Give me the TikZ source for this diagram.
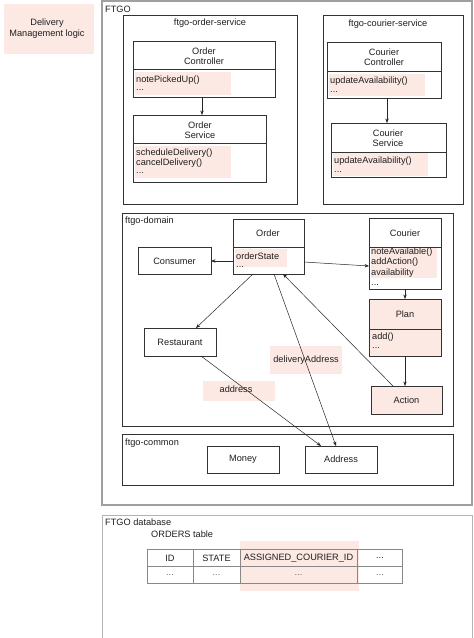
\documentclass[tikz,border=0pt]{standalone}
\usepackage{fontspec}
\setmainfont{Liberation Sans}
\usetikzlibrary{arrows.meta,calc}
\definecolor{pinkc}{HTML}{FCE9E3}
\definecolor{boxc}{HTML}{333333}
\definecolor{outerc}{HTML}{A0A0A0}
\definecolor{gridc}{HTML}{888888}
\newcommand{\mybox}[6]{\node[#6, anchor=north west, minimum width={(#4)-(#2)}, minimum height={(#5)-(#3)}] (#1) at (#2,#3) {};}
\begin{document}
\begin{tikzpicture}[x=1pt,y=-1pt,
  txt/.style={font=\fontsize{9.2}{10.5}\selectfont, inner sep=0pt, text=black!88},
  box/.style={draw=boxc, line width=0.6pt, fill=white, inner sep=0pt, outer sep=0pt},
  hl/.style={fill=pinkc, draw=none, inner sep=0pt, outer sep=0pt},
  divl/.style={draw=boxc, line width=0.6pt},
  arr/.style={-{Stealth[length=4.5pt,width=3.4pt]}, line width=0.5pt, draw=black!85},
]
\useasboundingbox (0,0) rectangle (474,638);

% Delivery management logic legend
\mybox{dml}{4}{4}{94}{54}{hl}
\node[txt, align=center, font=\fontsize{9.2}{11}\selectfont] (dmlt) at (47,29) {Delivery\\Management logic};

% FTGO outer
\mybox{ftgo}{102}{1}{472}{505}{draw=outerc, line width=1.2pt, inner sep=0pt, outer sep=0pt}
\node[txt, anchor=west] (ftgot) at (105,9) {FTGO};

% order service
\mybox{os}{123}{15}{297}{204}{box}
\node[txt] (ost) at (210,23) {ftgo-order-service};
\mybox{oc}{133}{41}{275}{97}{box}
\draw[divl] (oc.west |- 0,69) -- (oc.east |- 0,69);
\mybox{och}{135}{72}{231}{95}{hl}
\node[txt, align=center] (oct) at (204,56) {Order\\Controller};
\node[txt, anchor=west] (oc1) at (136,80) {notePickedUp()};
\node[txt, anchor=west] (oc2) at (136,90) {...};

\mybox{osv}{133}{115}{266}{182}{box}
\draw[divl] (osv.west |- 0,143) -- (osv.east |- 0,143);
\mybox{osvh}{135}{146}{231}{178}{hl}
\node[txt, align=center] (osvt) at (200,130) {Order\\Service};
\node[txt, anchor=west] (osv1) at (136,153) {scheduleDelivery()};
\node[txt, anchor=west] (osv2) at (136,163) {cancelDelivery()};
\node[txt, anchor=west] (osv3) at (136,173) {...};
\draw[arr] (oc.south -| 202,0) -- (osv.north -| 202,0);

% courier service
\mybox{cs}{323}{15}{463}{204}{box}
\node[txt] (cst) at (388,24) {ftgo-courier-service};
\mybox{cc}{327}{42}{441}{98}{box}
\draw[divl] (cc.west |- 0,71) -- (cc.east |- 0,71);
\mybox{cch}{329}{74}{425}{96}{hl}
\node[txt, align=center] (cct) at (384,57) {Courier\\Controller};
\node[txt, anchor=west] (cc1) at (330,81) {updateAvailability()};
\node[txt, anchor=west] (cc2) at (330,92) {...};

\mybox{csv}{331}{123}{446}{177}{box}
\draw[divl] (csv.west |- 0,152) -- (csv.east |- 0,152);
\mybox{csvh}{333}{153}{428}{176}{hl}
\node[txt, align=center] (csvt) at (388,138) {Courier\\Service};
\node[txt, anchor=west] (csv1) at (334,161) {updateAvailability()};
\node[txt, anchor=west] (csv2) at (334,172) {...};
\draw[arr] (cc.south -| 387,0) -- (csv.north -| 387,0);

% domain
\mybox{dom}{122}{213}{453}{426}{box}
\node[txt, anchor=west] (domt) at (125,221) {ftgo-domain};

\mybox{order}{233}{219}{304}{274}{box}
\draw[divl] (order.west |- 0,247) -- (order.east |- 0,247);
\mybox{orderh}{235}{249}{287}{267}{hl}
\node[txt] (ordert) at (268,233) {Order};
\node[txt, anchor=west] (order1) at (236,256) {orderState};
\node[txt, anchor=west] (order2) at (236,267) {...};

\mybox{consumer}{138}{247}{211}{274}{box}
\node[txt] (consumert) at (174.5,261) {Consumer};

\mybox{courier}{369}{218}{441}{289}{box}
\draw[divl] (courier.west |- 0,247) -- (courier.east |- 0,247);
\mybox{courierh}{371}{248}{437}{278}{hl}
\node[txt] (couriert) at (405,233) {Courier};
\node[txt, anchor=west] (cour1) at (371,252) {noteAvailable()};
\node[txt, anchor=west] (cour2) at (371,262.5) {addAction()};
\node[txt, anchor=west] (cour3) at (371,273) {availability};
\node[txt, anchor=west] (cour4) at (371,285) {...};

\mybox{plan}{369}{299}{441}{356}{box, fill=pinkc}
\draw[divl] (plan.west |- 0,329) -- (plan.east |- 0,329);
\node[txt] (plant) at (405,314) {Plan};
\node[txt, anchor=west] (plan1) at (372,337) {add()};
\node[txt, anchor=west] (plan2) at (372,348) {...};

\mybox{action}{371}{386}{442}{414}{box, fill=pinkc}
\node[txt] (actiont) at (406.5,400) {Action};

\mybox{rest}{144}{328}{216}{356}{box}
\node[txt] (restt) at (180,342) {Restaurant};

\mybox{dal}{270}{346}{342}{374}{hl}
\node[txt] (dalt) at (306,360) {deliveryAddress};
\mybox{adl}{203}{381}{275}{401}{hl}
\node[txt] (adlt) at (236,389) {address};

% common
\mybox{com}{122}{434}{453}{485}{box}
\node[txt, anchor=west] (comt) at (125,443) {ftgo-common};
\mybox{money}{207}{446}{279}{473}{box}
\node[txt] (moneyt) at (243,459.5) {Money};
\mybox{addr}{305}{446}{377}{473}{box}
\node[txt] (addrt) at (341,459.5) {Address};

% domain connectors
\draw[arr] (order.west |- 0,261) -- (consumer.east |- 0,261);
\draw[arr] (order.east |- 0,262) -- (courier.west |- 0,266);
\draw[arr] (courier.south -| 405,0) -- (plan.north -| 405,0);
\draw[arr] (plan.south -| 405,0) -- (action.north -| 405,0);
\draw[arr] (action.north -| 393,0) -- (order.south -| 283,0);
\draw[arr] (order.south -| 253,0) -- (rest.north -| 196,0);
\draw[arr] (order.south -| 274,0) -- (addr.north -| 336,0);
\draw[arr] (rest.south -| 201,0) -- (addr.north -| 321,0);

% database (open at the bottom: runs past the picture's edge)
\draw[draw=outerc!80, line width=0.8pt] (102,642) -- (102,515) -- (472,515) -- (472,642);
\node[txt, anchor=west] (dbt) at (105,522) {FTGO database};
\node[txt, anchor=west] (tabt) at (151,534) {ORDERS table};
\mybox{colh}{240}{541}{359}{591}{hl}
\draw[gridc, line width=0.6pt] (147,549) rectangle (402,583);
\draw[gridc, line width=0.6pt] (147,566) -- (402,566);
\foreach \xx in {193,240,357} \draw[gridc, line width=0.6pt] (\xx,549) -- (\xx,583);
\node[txt] (c1) at (170,558) {ID};
\node[txt] (c2) at (216.5,558) {STATE};
\node[txt] (c3) at (298.5,558) {ASSIGNED\_COURIER\_ID};
\node[txt] (c4) at (380,558) {...};
\node[txt, text=black!60] (d1) at (170,575) {...};
\node[txt, text=black!60] (d2) at (216.5,575) {...};
\node[txt, text=black!60] (d3) at (298.5,575) {...};
\node[txt, text=black!60] (d4) at (380,575) {...};
\end{tikzpicture}
\end{document}
